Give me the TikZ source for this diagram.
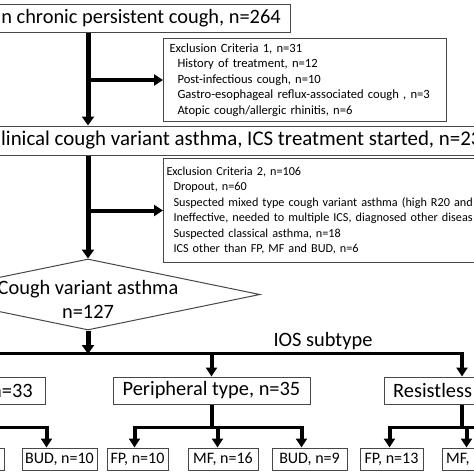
\documentclass[tikz,border=0pt]{standalone}
\usepackage{fontspec}
\setmainfont{Carlito}
\usetikzlibrary{arrows.meta,shapes.geometric}
\begin{document}
\begin{tikzpicture}[x=1pt,y=-1pt,
  box/.style={draw=black!72, line width=1pt, inner sep=0pt},
  big/.style={font=\fontsize{20.4}{24}\selectfont},
  huge/.style={font=\fontsize{20.9}{25}\selectfont},
  mid/.style={font=\fontsize{16}{19}\selectfont},
  small/.style={font=\fontsize{12.6}{15.4}\selectfont},
  smaller/.style={font=\fontsize{12.2}{15.4}\selectfont},
  trunk/.style={line width=5pt, -{Triangle[width=12pt,length=9pt]}},
  conn/.style={line width=4pt, -{Triangle[width=11pt,length=9pt]}},
  drop/.style={line width=4pt, shorten <=-1.5pt, -{Triangle[width=11pt,length=9pt]}},
  bar/.style={line width=3pt},
  txt/.style={inner sep=0pt, text=black},
]
\useasboundingbox (0,0) rectangle (474,474);
\fill[white] (0,0) rectangle (474,474);

% level 1
\node[box, minimum width=404pt, minimum height=28pt] (top) at (88,18) {};
\node[txt, big, anchor=east] (toptxt) at (281,18) {n chronic persistent cough, n=264};

% exclusion 1
\node[box, small, anchor=north west, minimum width=283pt, minimum height=83pt,
      inner xsep=6pt, text width=271pt, align=left] (ex1) at (163,38)
  {Exclusion Criteria 1, n=31\\
   \hspace*{8pt}History of treatment, n=12\\
   \hspace*{8pt}Post-infectious cough, n=10\\
   \hspace*{8pt}Gastro-esophageal reflux-associated cough , n=3\\
   \hspace*{8pt}Atopic cough/allergic rhinitis, n=6};

% level 2
\node[box, minimum width=1000pt, minimum height=29pt] (cva) at (88,140.5) {};
\node[txt, huge, anchor=west] (cvatxt) at (1,140.5) {linical cough variant asthma, ICS treatment started, n=23};

% exclusion 2
\node[box, smaller, anchor=north west, minimum height=104pt,
      inner xsep=3pt, text width=400pt, align=left] (ex2) at (163,158)
  {Exclusion Criteria 2, n=106\\
   \hspace*{7pt}Dropout, n=60\\
   \hspace*{7pt}Suspected mixed type cough variant asthma (high R20 and\\
   \hspace*{7pt}Ineffective, needed to multiple ICS, diagnosed other diseas\\
   \hspace*{7pt}Suspected classical asthma, n=18\\
   \hspace*{7pt}ICS other than FP, MF and BUD, n=6};

% diamond
\node[draw=black!72, line width=1pt, diamond, minimum width=344pt, minimum height=71pt, inner sep=0pt] (dia) at (88,294.5) {};
\node[txt, big] (dia1) at (88,289) {Cough variant asthma};
\node[txt, big] (dia2) at (88,312) {n=127};

\draw[trunk] (top.south) -- (cva.north);
\draw[conn] (ex1.west -| top.south) -- (ex1.west);
\draw[trunk] (cva.south) -- (dia.north);
\draw[conn] (ex2.west -| cva.south) -- (ex2.west);

% IOS subtype
\node[txt, big] (ios) at (323,341) {IOS subtype};
\coordinate (bary) at (0,353);

% level 3
\node[box, minimum width=170pt, minimum height=27pt] (t33) at (-40,390.5) {};
\node[txt, big, anchor=east] (t33txt) at (33,390.5) {n=33};
\node[box, big, minimum width=197pt, minimum height=27pt] (per) at (211.5,390.5) {Peripheral type, n=35};
\node[box, minimum width=156pt, minimum height=27pt] (res) at (462,390.5) {};
\node[txt, big, anchor=west] (restxt) at (393,390.5) {Resistless};

\draw[trunk] (dia.south) -- ([yshift=-1pt]dia.south |- bary);
\draw[bar] (t33.north |- bary) -- (res.north |- bary);
\draw[drop] (t33.north |- bary) -- (t33.north);
\draw[drop] (per.north |- bary) -- (per.north);
\draw[drop] (res.north |- bary) -- (res.north);

% level 4
\coordinate (bar2y) at (0,427);
% left group
\node[box, minimum width=60pt, minimum height=22pt] (mfA) at (-26,459) {};
\node[box, mid, minimum width=75pt, minimum height=22pt] (budA) at (59.5,459) {BUD, n=10};
\coordinate (aBudA) at ([xshift=25pt]budA.north west);
% peripheral group
\node[box, mid, minimum width=61pt, minimum height=22pt] (fpB) at (137.5,459) {FP, n=10};
\node[box, mid, minimum width=70pt, minimum height=22pt] (mfB) at (223,459) {MF, n=16};
\node[box, mid, minimum width=75pt, minimum height=22pt] (budB) at (309.5,459) {BUD, n=9};
\coordinate (aFpB) at ([xshift=28pt]fpB.north west);
\coordinate (aMfB) at ([xshift=30pt]mfB.north west);
\coordinate (aBudB) at ([xshift=30pt]budB.north west);
% resistless group
\node[box, mid, minimum width=63pt, minimum height=22pt] (fpC) at (391.5,459) {FP, n=13};
\node[box, minimum width=70pt, minimum height=22pt] (mfC) at (477,459) {};
\node[txt, mid, anchor=west] (mfCtxt) at (446,459) {MF,};
\node[box, minimum width=75pt, minimum height=22pt] (budC) at (560,459) {};
\coordinate (aFpC) at ([xshift=30pt]fpC.north west);
\coordinate (aMfC) at ([xshift=25pt]mfC.north west);
\coordinate (aBudC) at ([xshift=30pt]budC.north west);

\draw[line width=4pt] (t33.south) -- (t33.south |- bar2y);
\draw[bar] (-60,427) -- (aBudA |- bar2y);
\draw[drop] (aBudA |- bar2y) -- (aBudA);

\draw[line width=4pt] (per.south) -- (per.south |- bar2y);
\draw[bar] (aFpB |- bar2y) -- (aBudB |- bar2y);
\draw[drop] (aFpB |- bar2y) -- (aFpB);
\draw[drop] (aMfB |- bar2y) -- (aMfB);
\draw[drop] (aBudB |- bar2y) -- (aBudB);

\draw[line width=4pt] (res.south) -- (res.south |- bar2y);
\draw[bar] (aFpC |- bar2y) -- (aBudC |- bar2y);
\draw[drop] (aFpC |- bar2y) -- (aFpC);
\draw[drop] (aMfC |- bar2y) -- (aMfC);
\draw[drop] (aBudC |- bar2y) -- (aBudC);
\end{tikzpicture}
\end{document}
